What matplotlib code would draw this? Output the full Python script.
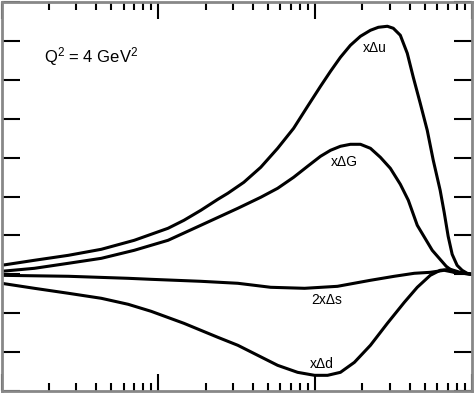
import matplotlib.pyplot as plt
import numpy as np
from matplotlib.ticker import LogLocator, MultipleLocator, NullFormatter

plt.rcParams['font.family'] = ['Liberation Sans', 'DejaVu Sans']
plt.rcParams['mathtext.fontset'] = 'custom'
plt.rcParams['mathtext.rm'] = 'Liberation Sans'
plt.rcParams['mathtext.it'] = 'Liberation Sans'

# xΔu
x_u = [0.001, 0.00162, 0.00267, 0.00433, 0.00702, 0.01153, 0.01456, 0.01866,
       0.02396, 0.02774, 0.03508, 0.04498, 0.05764, 0.0729, 0.08951, 0.1082,
       0.1253, 0.1449, 0.1678, 0.1944, 0.2251, 0.2529, 0.2887, 0.3149, 0.3491,
       0.3866, 0.4223, 0.4677, 0.5183, 0.5662, 0.6266, 0.6646, 0.7047, 0.7474,
       0.8035, 0.865, 0.9311, 1.0]
y_u = [0.00231, 0.0036, 0.00488, 0.00643, 0.00874, 0.01183, 0.01388, 0.01645,
       0.01928, 0.02083, 0.02365, 0.02751, 0.03239, 0.03754, 0.04319, 0.04834,
       0.05219, 0.05579, 0.05888, 0.06119, 0.06273, 0.0635, 0.06376, 0.06325,
       0.06145, 0.05682, 0.05065, 0.04396, 0.03702, 0.02931, 0.0216, 0.01594,
       0.00977, 0.00514, 0.00231, 0.00103, 0.00026, 0.0]

# xΔG
x_g = [0.001, 0.00162, 0.00267, 0.00433, 0.00702, 0.01153, 0.01866, 0.03213,
       0.04498, 0.05764, 0.0729, 0.08951, 0.1082, 0.1253, 0.1449, 0.1678,
       0.1944, 0.2251, 0.2605, 0.3015, 0.3491, 0.3926, 0.4477, 0.5578, 0.6845,
       0.7691, 1.0]
y_g = [0.00077, 0.00154, 0.00283, 0.00411, 0.00617, 0.00874, 0.0126, 0.01697,
       0.0198, 0.02211, 0.02494, 0.02777, 0.03034, 0.03188, 0.03291, 0.03342,
       0.03342, 0.03239, 0.03008, 0.02725, 0.02314, 0.01903, 0.0126, 0.00617,
       0.00206, 0.00051, 0.0]

# 2xΔs
x_s = [0.001, 0.00267, 0.00642, 0.00899, 0.01866, 0.03213, 0.05204, 0.08564,
       0.1387, 0.2251, 0.3196, 0.4285, 0.542, 0.6646, 0.7691, 1.0]
y_s = [-0.00026, -0.00051, -0.00103, -0.00129, -0.0018, -0.00231, -0.00334,
       -0.0036, -0.00309, -0.00154, -0.00051, 0.00026, 0.00051, 0.00103,
       0.00051, 0.0]

# xΔd
x_d = [0.001, 0.00162, 0.00267, 0.00433, 0.00642, 0.00899, 0.01456, 0.02396,
       0.03213, 0.04305, 0.05764, 0.07727, 0.09912, 0.1199, 0.1449, 0.1779,
       0.2251, 0.2887, 0.3702, 0.4477, 0.542, 0.6266, 0.7261, 0.8395, 1.0]
y_d = [-0.00231, -0.0036, -0.00488, -0.00617, -0.00771, -0.00951, -0.0126,
       -0.0162, -0.01825, -0.02083, -0.0234, -0.0252, -0.02597, -0.02597,
       -0.0252, -0.02263, -0.01825, -0.0126, -0.0072, -0.00334, -0.00026,
       0.00103, 0.00129, 0.00051, 0.0]

fig = plt.figure(figsize=(4.74, 3.93), dpi=100)
ax = fig.add_axes([1.5 / 474, 2 / 393, 470.5 / 474, 389 / 393])

for xs, ys in [(x_u, y_u), (x_g, y_g), (x_s, y_s), (x_d, y_d)]:
    ax.plot(xs, ys, color='black', lw=2.2, solid_joinstyle='round', solid_capstyle='round')

ax.set_xscale('log')
ax.set_xlim(1e-3, 1)
ax.set_ylim(-0.03, 0.07)
ax.xaxis.set_major_locator(LogLocator(base=10))
ax.xaxis.set_minor_locator(LogLocator(base=10, subs=np.arange(2, 10)))
ax.xaxis.set_minor_formatter(NullFormatter())
ax.yaxis.set_major_locator(MultipleLocator(0.01))
ax.tick_params(which='both', direction='in', top=True, right=True,
               labelbottom=False, labelleft=False, width=1.5, color='black')
ax.tick_params(axis='x', which='major', length=12)
ax.tick_params(axis='x', which='minor', length=6)
ax.tick_params(axis='y', which='major', length=13)
for s in ax.spines.values():
    s.set_color('#888888')
    s.set_linewidth(2)

ax.text(0.091, 0.859, 'Q$^2$ = 4 GeV$^2$', transform=ax.transAxes,
        fontsize=12, va='center', ha='left')
ax.text(0.239, 0.0581, 'x\u0394u', fontsize=10, ha='center', va='center')
ax.text(0.154, 0.0288, 'x\u0394G', fontsize=10, ha='center', va='center')
ax.text(0.118, -0.0067, '2x\u0394s', fontsize=10, ha='center', va='center')
ax.text(0.11, -0.0231, 'x\u0394d', fontsize=10, ha='center', va='center')

fig.savefig('out.png', dpi=100)
